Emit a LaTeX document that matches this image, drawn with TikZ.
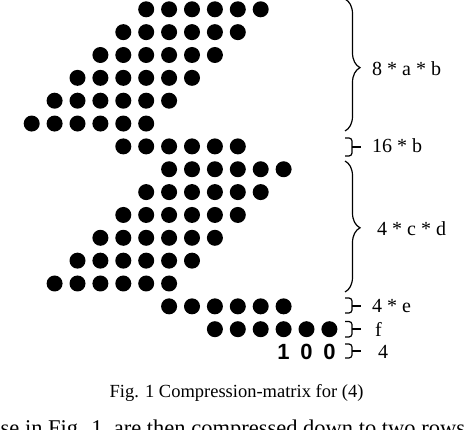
\documentclass[tikz,border=0pt]{standalone}
\usepackage{fontspec}
\setmainfont{Liberation Serif}
\newfontfamily\digitfont{Liberation Sans}
\usetikzlibrary{decorations.pathreplacing,positioning}

\begin{document}
\begin{tikzpicture}[
        x=1pt, y=-1pt,
        dot/.style={circle, fill=black, minimum size=16pt, inner sep=0pt},
        digit/.style={font=\digitfont\bfseries\fontsize{22}{24}\selectfont, inner sep=0pt},
        sumlabel/.style={anchor=base west, inner sep=0pt, font=\fontsize{20}{24}\selectfont},
        bigbrace/.style={decorate, decoration={brace, amplitude=15pt}, line width=1.2pt},
        smallbrace/.style={line width=1.2pt, rounded corners=3pt}
    ]
    \useasboundingbox (0,0) rectangle (474,430);
    \clip (0,0) rectangle (474,430);

    % Nodes
    \foreach \r/\s in {0/5,1/4,2/3,3/2,4/1,5/0,6/4,7/6,8/5,9/4,10/3,11/2,12/1,13/6,14/8}
      \foreach \k in {0,...,5}
        \node[dot] (d-\r-\k) at ({31.7+22.9*(\s+\k)}, {9.3+22.85*\r}) {};

    \node[digit] (one)   at (283.6,352) {1};
    \node[digit] (zeroa) at (306.5,352) {0};
    \node[digit] (zerob) at (329.4,352) {0};

    \node[sumlabel] (lab-ab) at (372,76)  {8 * a * b};
    \node[sumlabel] (lab-b)  at (372,153) {16 * b};
    \node[sumlabel] (lab-cd) at (377,236) {4 * c * d};
    \node[sumlabel] (lab-e)  at (372,312.5) {4 * e};
    \node[sumlabel] (lab-f)  at (375,336.5) {f};
    \node[sumlabel] (lab-four) at (378,359) {4};

    \node[anchor=base, inner sep=0pt, font=\fontsize{18.5}{22}\selectfont] (caption)
        at (236.5,397) {Fig. 1 Compression-matrix for (4)};
    \node[anchor=base west, inner sep=0pt, font=\fontsize{22.5}{26}\selectfont] (body)
        at (0.5,435) {se in Fig. 1, are then compressed down to two rows};

    % Braces
    \coordinate (ab-top) at (345,-1);
    \coordinate (ab-bot) at (345,131);
    \coordinate (cd-top) at (345,161);
    \coordinate (cd-bot) at (345,292);
    \draw[bigbrace, decoration={aspect=0.52}] (ab-top) -- (ab-bot);
    \draw[bigbrace, decoration={aspect=0.51}] (cd-top) -- (cd-bot);

    \draw[smallbrace] (345,138) -- (352,138) -- (352,156) -- (345,156);
    \draw[line width=1.2pt] (352,147) -- (361,147);
    \draw[smallbrace] (345,298) -- (352,298) -- (352,313) -- (345,313);
    \draw[line width=1.2pt] (352,306) -- (361,306);
    \draw[smallbrace] (345,321.5) -- (352,321.5) -- (352,337) -- (345,337);
    \draw[line width=1.2pt] (352,329) -- (361,329);
    \draw[smallbrace] (345,344) -- (352,344) -- (352,358) -- (345,358);
    \draw[line width=1.2pt] (352,351) -- (361,351);

\end{tikzpicture}
\end{document}
